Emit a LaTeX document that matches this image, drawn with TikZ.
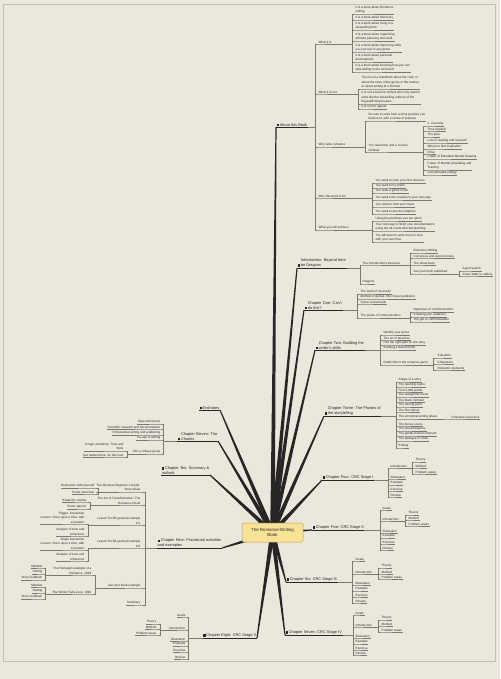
\documentclass[tikz,border=0pt]{standalone}
\usepackage{fontspec}
\setmainfont{Liberation Sans}
\usetikzlibrary{calc}
\pgfdeclarelayer{bg}
\pgfsetlayers{bg,main}
\definecolor{paper}{RGB}{236,231,221}
\definecolor{frameline}{RGB}{196,191,182}
\definecolor{twigcol}{RGB}{125,120,113}
\definecolor{inkcol}{RGB}{40,38,36}
\definecolor{rootfill}{RGB}{247,226,150}
\definecolor{rootdraw}{RGB}{190,160,80}
\newcommand\chicon{\textcolor{inkcol}{\rule[-0.2pt]{2.4pt}{2.6pt}}\,}
\newcommand\rkids[3]{\foreach \kk in {#3}{\draw[twig] (#1.south east) -- (#1.south east -| #2,0) |- (\kk.south west) -- (\kk.south east);}}
\newcommand\lkids[3]{\foreach \kk in {#3}{\draw[twig] (#1.south west) -- (#1.south west -| #2,0) |- (\kk.south east) -- (\kk.south west);}}
\newcommand\spoke[1]{\fill[inkcol] ($(R.center)!2.3pt!90:(#1)$) -- ($(#1)!0.55pt!-90:(R.center)$) -- ($(#1)!0.55pt!90:(R.center)$) -- ($(R.center)!2.3pt!-90:(#1)$) -- cycle;}
\begin{document}
\begin{tikzpicture}[x=1pt,y=-1pt,
  leaf/.style={font=\fontsize{3.1}{4.6}\selectfont, text=inkcol, inner xsep=0.5pt, inner ysep=0.3pt, anchor=south west, align=left},
  lleaf/.style={leaf, anchor=south east, align=right},
  chap/.style={font=\fontsize{3.9}{4.6}\selectfont, text=inkcol, inner xsep=0.6pt, inner ysep=0.4pt, anchor=south west, align=left},
  lchap/.style={chap, anchor=south east},
  twig/.style={draw=twigcol, line width=0.35pt},
  chline/.style={draw=inkcol, line width=0.75pt},
  root/.style={fill=rootfill, draw=rootdraw, line width=0.5pt, rounded corners=1.5pt, minimum width=61pt, minimum height=19pt, align=center, font=\fontsize{4.4}{5.6}\selectfont, text=inkcol}]
\begin{pgfonlayer}{bg}
\fill[paper] (0,0) rectangle (500,679);
\draw[frameline, line width=0.6pt] (3,4) rectangle (495,661);
\end{pgfonlayer}
\useasboundingbox (0,0) rectangle (500,679);

\node[root] (R) at (272.5,532.5) {The Romance-Writing\\Book};

% ---------- About this book ----------
\node[chap] (C1) at (276,127) {\chicon About this Book};
\node[leaf] (W1) at (318,44) {What it is};
\node[leaf] (W2) at (318,94) {What it is not};
\node[leaf] (W3) at (318,147) {Why write romance};
\node[leaf] (W4) at (318,198) {Who this book is for};
\node[leaf] (W5) at (318,230) {What you will achieve};
\rkids{C1}{315}{W1,W2,W3,W4,W5}
\node[leaf] (a1) at (355,14) {It is a book about Romance\\writing};
\node[leaf] (a2) at (355,20) {It is a book about discovery};
\node[leaf] (a3) at (355,30) {It is a book about living in a\\storytelling flow};
\node[leaf] (a4) at (355,41) {It is a book about organizing\\efficient planning and work};
\node[leaf] (a5) at (355,52) {It is a book about improving skills\\you can use in any genre};
\node[leaf] (a6) at (355,62) {It is a book about personal\\development};
\node[leaf] (a7) at (355,72) {It is a book about knowing how you can\\take writing to the next level};
\rkids{W1}{352}{a1,a2,a3,a4,a5,a6,a7}
\node[leaf] (b1) at (361,89) {This is not a handbook about the craft, or\\about the rules of the genre or the market,\\or about writing to a formula};
\node[leaf] (b2) at (361,104) {It is not a book for writers who only want to\\write like the bestselling authors of the\\big publishing houses};
\node[leaf] (b3) at (361,109) {It is not for agents};
\rkids{W2}{358}{b1,b2,b3}
\node[leaf] (c1) at (368,121) {Be sure to write from a story premise you\\believe in, with a sense of purpose};
\node[leaf] (c2) at (368,152) {You need time and a curious\\mindset};
\rkids{W3}{365}{c1,c2}
\node[leaf] (d1) at (427,126) {1. Curiosity};
\node[leaf] (d2) at (427,131) {Time needed};
\node[leaf] (d3) at (427,137) {The plan};
\node[leaf] (d4) at (427,143) {Lots of reading and research};
\node[leaf] (d5) at (427,149) {Where to find inspiration};
\node[leaf] (d6) at (427,154) {Drive};
\node[leaf] (d7) at (427,159) {Power of Extended Mental Drawing};
\node[leaf] (d8) at (427,170) {Power of Mental Unwinding and\\Training};
\node[leaf] (d9) at (427,175) {Concentrated energy};
\rkids{c2}{423}{d1,d2,d3,d4,d5,d6,d7,d8,d9}
\node[leaf] (e1) at (375,183) {You want to write your first romance};
\node[leaf] (e2) at (375,188) {You want to try fiction};
\node[leaf] (e3) at (375,193) {You write a genre novel};
\node[leaf] (e4) at (375,200) {You want to be creative in your own way};
\node[leaf] (e5) at (375,207) {You need to feed your muse};
\node[leaf] (e6) at (375,214) {You want to see the chapters};
\rkids{W4}{372}{e1,e2,e3,e4,e5,e6}
\node[leaf] (f1) at (375,221) {Using the premises you are given};
\node[leaf] (f2) at (375,231) {Your own way to finish your documentation\\using the all-round directed planning};
\node[leaf] (f3) at (375,242) {You will learn to write more in tune\\with your own flow};
\rkids{W5}{372}{f1,f2,f3}

% ---------- Introduction ----------
\node[chap] (IN) at (297,268) {\hphantom{\chicon}Introduction: Beyond here\\\chicon be Dragons};
\node[leaf] (g1) at (362,265) {The introduction's structure};
\node[leaf] (g2) at (362,284) {Dragons};
\rkids{IN}{360}{g1,g2}
\node[leaf] (h1) at (413,253) {Romance Writing};
\node[leaf] (h2) at (413,258) {Conscious and subconscious};
\node[leaf] (h3) at (413,265) {The ideas book};
\node[leaf] (h4) at (413,274) {Get your book published};
\rkids{g1}{410}{h1,h2,h3,h4}
\node[leaf] (i1) at (462,271) {Agent search};
\node[leaf] (i2) at (462,276) {Cover letter to editors};
\rkids{h4}{459}{i1,i2}

% ---------- Chapter One ----------
\node[chap] (CA) at (304,310) {\hphantom{\chicon}Chapter One: Can't\\\chicon do this?};
\node[leaf] (j1) at (360,294) {The myth of necessity};
\node[leaf] (j2) at (360,299) {Method of genius: the chosen publisher};
\node[leaf] (j3) at (360,304) {Some crucial traits};
\node[leaf] (j4) at (360,318) {The power of communication};
\rkids{CA}{357}{j1,j2,j3,j4}
\node[leaf] (k1) at (413,312) {Openness of communication};
\node[leaf] (k2) at (413,317) {Knowing your audience};
\node[leaf] (k3) at (413,322) {The gift of communication};
\rkids{j4}{410}{k1,k2,k3}

% ---------- Chapter Two ----------
\node[chap] (CB) at (315,350) {\hphantom{\chicon}Chapter Two: Building the\\\chicon writer's skills};
\node[leaf] (l1) at (383,335) {Identify your genre};
\node[leaf] (l2) at (383,340) {The art of structure};
\node[leaf] (l3) at (383,345) {Plot the right path for the story};
\node[leaf] (l4) at (383,350) {Building a skilled mode};
\node[leaf] (l5) at (383,365) {Distinctive to the romance genre};
\rkids{CB}{380}{l1,l2,l3,l4,l5}
\node[leaf] (m1) at (437,358) {Sub-plots};
\node[leaf] (m2) at (437,364) {Characters};
\node[leaf] (m3) at (437,370) {Romantic elements};
\rkids{l5}{433}{m1,m2,m3}

% ---------- Chapter Three ----------
\node[chap] (CC) at (324,416) {\hphantom{\chicon}Chapter Three: The Phases of\\\chicon the storytelling};
\node[leaf] (n1) at (398,382) {Shape of a story};
\node[leaf] (n2) at (398,387) {The opening scene};
\node[leaf] (n3) at (398,392) {First 3,000 words};
\node[leaf] (n4) at (398,397) {The antagonist scene};
\node[leaf] (n5) at (398,402) {The black moment};
\node[leaf] (n6) at (398,407) {The turning point};
\node[leaf] (n7) at (398,412) {The first climax};
\node[leaf] (n8) at (398,419) {The emotional writing phase};
\node[leaf] (n9) at (398,426) {The bonus scene};
\node[leaf] (n10) at (398,431) {The last emergency};
\node[leaf] (n11) at (398,436) {The gentle reunion moment};
\node[leaf] (n12) at (398,441) {The epilogue or coda};
\node[leaf] (n13) at (398,448) {Ending};
\rkids{CC}{396}{n1,n2,n3,n4,n5,n6,n7,n8,n9,n10,n11,n12,n13}
\node[leaf] (o1) at (451,419) {Character-level arcs};
\rkids{n8}{448}{o1}

% ---------- Chapter Four ----------
\node[chap] (CD) at (322,480) {\chicon Chapter Four: CRC Stage I};
\node[leaf] (p1) at (390,468) {Introduction};
\node[leaf] (p2) at (390,479) {Illustration};
\node[leaf] (p3) at (390,485) {Example};
\node[leaf] (p4) at (390,491) {Exercise};
\node[leaf] (p5) at (390,497) {Review};
\rkids{CD}{388}{p1,p2,p3,p4,p5}
\node[leaf] (p1a) at (415,462) {Theory};
\node[leaf] (p1b) at (415,468) {Method};
\node[leaf] (p1c) at (415,474) {Problem areas};
\rkids{p1}{412}{p1a,p1b,p1c}

% ---------- Chapter Five ----------
\node[chap] (CE) at (312,530) {\chicon Chapter Five: CRC Stage II};
\node[leaf] (q0) at (382,510) {Goals};
\node[leaf] (q1) at (382,521) {Introduction};
\node[leaf] (q2) at (382,533) {Illustration};
\node[leaf] (q3) at (382,538) {Example};
\node[leaf] (q4) at (382,544) {Exercise};
\node[leaf] (q5) at (382,550) {Review};
\rkids{CE}{380}{q0,q1,q2,q3,q4,q5}
\node[leaf] (q1a) at (408,515) {Theory};
\node[leaf] (q1b) at (408,520) {Method};
\node[leaf] (q1c) at (408,526) {Problem areas};
\rkids{q1}{405}{q1a,q1b,q1c}

% ---------- Chapter Six ----------
\node[chap] (CF) at (286,582) {\chicon Chapter Six: CRC Stage III};
\node[leaf] (r0) at (355,561) {Goals};
\node[leaf] (r1) at (355,574) {Introduction};
\node[leaf] (r2) at (355,585) {Illustration};
\node[leaf] (r3) at (355,591) {Example};
\node[leaf] (r4) at (355,597) {Exercise};
\node[leaf] (r5) at (355,603) {Review};
\rkids{CF}{352}{r0,r1,r2,r3,r4,r5}
\node[leaf] (r1a) at (381,568) {Theory};
\node[leaf] (r1b) at (381,574) {Method};
\node[leaf] (r1c) at (381,579) {Problem areas};
\rkids{r1}{378}{r1a,r1b,r1c}

% ---------- Chapter Seven ----------
\node[chap] (CG) at (285,635) {\chicon Chapter Seven: CRC Stage IV};
\node[leaf] (s0) at (355,615) {Goals};
\node[leaf] (s1) at (355,627) {Introduction};
\node[leaf] (s2) at (355,638) {Illustration};
\node[leaf] (s3) at (355,644) {Example};
\node[leaf] (s4) at (355,650) {Exercise};
\node[leaf] (s5) at (355,655) {Review};
\rkids{CG}{353}{s0,s1,s2,s3,s4,s5}
\node[leaf] (s1a) at (381,620) {Theory};
\node[leaf] (s1b) at (381,626) {Method};
\node[leaf] (s1c) at (381,632) {Problem areas};
\rkids{s1}{378}{s1a,s1b,s1c}

% ---------- Chapter Eight ----------
\node[lchap] (CH) at (257,638) {\chicon Chapter Eight: CRC Stage V};
\node[lleaf] (t0) at (186,617) {Goals};
\node[lleaf] (t1) at (186,630) {Introduction};
\node[lleaf] (t2) at (186,641) {Illustration};
\node[lleaf] (t3) at (186,646) {Example};
\node[lleaf] (t4) at (186,652) {Exercise};
\node[lleaf] (t5) at (186,659) {Review};
\lkids{CH}{188}{t0,t1,t2,t3,t4,t5}
\node[lleaf] (t1a) at (157,624) {Theory};
\node[lleaf] (t1b) at (157,629) {Method};
\node[lleaf] (t1c) at (157,635) {Problem areas};
\lkids{t1}{160}{t1a,t1b,t1c}

% ---------- Chapter Nine ----------
\node[lchap] (CI) at (222,548) {\chicon Chapter Nine: Procedural activities\\and examples};
\node[lleaf] (u1) at (141,492) {The Absolute Beginner's Guide:\\Story Ideas};
\node[lleaf] (u2) at (141,505) {The Art of Transformation: The\\Romance Novel};
\node[lleaf] (u3) at (141,525) {Lesson for 3B general example\\1/1};
\node[lleaf] (u4) at (141,548) {Lesson for 3B general example\\2/2};
\node[lleaf] (u5) at (141,588) {Get your book example};
\node[lleaf] (u6) at (141,605) {Summary};
\lkids{CI}{145}{u1,u2,u3,u4,u5,u6}
\node[lleaf] (u1a) at (95,488) {Brainstorm with yourself};
\node[lleaf] (u1b) at (95,494) {Some exercises};
\lkids{u1}{98}{u1a,u1b}
\node[lleaf] (u2a) at (87,502) {Break the routine};
\node[lleaf] (u2b) at (87,509) {Some options};
\lkids{u2}{90}{u2a,u2b}
\node[lleaf] (u3a) at (85,524) {Trigger: interaction\\Lesson: Once upon a time, with\\a narrator};
\node[lleaf] (u3b) at (85,536) {Analysis of tone and\\coherence};
\lkids{u3}{88}{u3a,u3b}
\node[lleaf] (u4a) at (85,550) {Single interaction\\Lesson: Once upon a time, with\\a narrator};
\node[lleaf] (u4b) at (85,561) {Analysis of tone and\\coherence};
\lkids{u4}{88}{u4a,u4b}
\node[lleaf] (v1) at (92,575) {The Harlequin example of a\\Romance, 1994};
\node[lleaf] (v2) at (92,594) {The Winter Falls Love, 1992};
\lkids{u5}{95}{v1,v2}
\node[lleaf] (v1a) at (43,568) {Mindset};
\node[lleaf] (v1b) at (43,574) {Setting};
\node[lleaf] (v1c) at (43,580) {Story feedback};
\lkids{v1}{45}{v1a,v1b,v1c}
\node[lleaf] (v2a) at (43,587) {Mindset};
\node[lleaf] (v2b) at (43,593) {Setting};
\node[lleaf] (v2c) at (43,599) {Story feedback};
\lkids{v2}{45}{v2a,v2b,v2c}

% ---------- Chapter Ten ----------
\node[lchap] (CJ) at (210,475) {\chicon Chapter Ten: Summary \&\\outlook};

% ---------- Chapter Eleven ----------
\node[lchap] (CK) at (218,441) {\hphantom{\chicon}Chapter Eleven: The\\\chicon Chunks};
\node[lleaf] (w1) at (161,424) {Style references};
\node[lleaf] (w2) at (161,429) {Scientific research and documentation};
\node[lleaf] (w3) at (161,435) {Professional writing and publishing};
\node[lleaf] (w4) at (161,440) {Tie-ups to writing};
\node[lleaf] (w5) at (161,454) {Join a critique group};
\lkids{CK}{163}{w1,w2,w3,w4,w5}
\node[lleaf] (x1) at (124,451) {Longer workshop: Tone and\\Style};
\node[lleaf] (x2) at (124,457) {Get started here: do this now};
\lkids{w5}{127}{x1,x2}

% ---------- Endnotes ----------
\node[lchap] (EP) at (220,410) {\chicon Endnotes};

\foreach \nn in {C1,IN,CA,CB,CC,CD,CE,CF,CG,CH,CI,CJ,CK,EP}{\draw[chline] (\nn.south west) -- (\nn.south east);}

\begin{pgfonlayer}{bg}
\foreach \pp in {C1.south west,IN.south west,CA.south west,CB.south west,CC.south west,CD.south west,CE.south west,CF.south west,CG.south west,CH.south east,CI.south east,CJ.south east,CK.south east,EP.south east}{\spoke{\pp}}
\end{pgfonlayer}
\end{tikzpicture}
\end{document}
